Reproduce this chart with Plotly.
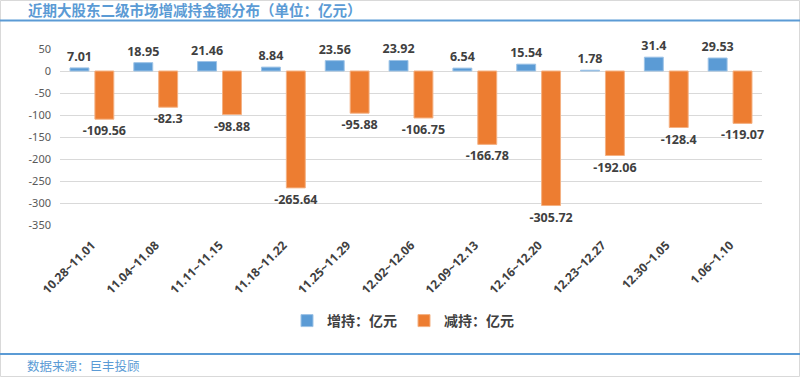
import plotly.graph_objects as go

categories = ["10.28~11.01", "11.04~11.08", "11.11~11.15", "11.18~11.22", "11.25~11.29",
              "12.02~12.06", "12.09~12.13", "12.16~12.20", "12.23~12.27", "12.30~1.05", "1.06~1.10"]
increase = [7.01, 18.95, 21.46, 8.84, 23.56, 23.92, 6.54, 15.54, 1.78, 31.4, 29.53]
decrease = [-109.56, -82.3, -98.88, -265.64, -95.88, -106.75, -166.78, -305.72, -192.06, -128.4, -119.07]
y_ticks = [50, 0, -50, -100, -150, -200, -250, -300, -350]

W, H = 800, 377
L, R, T, B = 60, 38, 49, 152
pw, ph = W - L - R, H - T - B

def px_x(p):
    return (p - L) / pw

def px_y(p):
    return (H - B - p) / ph

label_font = dict(family="Noto Sans, Noto Sans CJK SC, sans-serif", size=12.5, color="#404040", weight="bold")

fig = go.Figure()
fig.add_trace(go.Bar(
    x=categories, y=increase, name="增持：亿元",
    marker=dict(color="#5b9bd5", line=dict(color="#9dc3e6", width=1)),
    text=[str(v) for v in increase], textposition="outside", cliponaxis=False,
    constraintext="none", textfont=label_font,
))
fig.add_trace(go.Bar(
    x=categories, y=decrease, name="减持：亿元",
    marker=dict(color="#ed7d31", line=dict(color="#f4b183", width=1)),
    text=[str(v) for v in decrease], textposition="outside", cliponaxis=False,
    constraintext="none", textfont=label_font,
))

line_color = "#5b9bd5"
shapes = [
    dict(type="rect", xref="paper", yref="paper", x0=px_x(0.5), x1=px_x(W - 0.5), y0=px_y(H - 0.5), y1=px_y(0.5),
         line=dict(color="#d9d9d9", width=1), layer="below"),
    dict(type="line", xref="paper", yref="paper", x0=px_x(0), x1=px_x(W), y0=px_y(20.5), y1=px_y(20.5),
         line=dict(color=line_color, width=2)),
    dict(type="line", xref="paper", yref="paper", x0=px_x(0), x1=px_x(W), y0=px_y(354), y1=px_y(354),
         line=dict(color=line_color, width=2)),
]

fig.update_layout(
    width=W, height=H,
    margin=dict(l=L, r=R, t=T, b=B),
    paper_bgcolor="white", plot_bgcolor="white",
    barmode="group", bargap=0.22, bargroupgap=0.24,
    title=dict(text="近期大股东二级市场增减持金额分布（单位：亿元）", xref="container", yref="container",
               x=28 / W, xanchor="left", y=1 - 11 / H, yanchor="middle",
               font=dict(family="Noto Sans CJK SC, sans-serif", size=14.5, color="#5b9bd5", weight="bold")),
    showlegend=True,
    legend=dict(orientation="h", x=px_x(404), xanchor="center", y=px_y(321), yanchor="middle",
                font=dict(family="Noto Sans CJK SC, sans-serif", size=14, color="#404040", weight="bold"),
                entrywidth=72, entrywidthmode="pixels", itemwidth=30, tracegroupgap=0),
    shapes=shapes,
    annotations=[dict(text="数据来源：巨丰投顾", xref="paper", yref="paper", x=px_x(25), xanchor="left",
                      y=px_y(365), yanchor="middle", showarrow=False,
                      font=dict(family="Noto Sans CJK SC, sans-serif", size=12.5, color="#5b9bd5"))],
    xaxis=dict(tickangle=-45, showgrid=False, showline=False, ticks="", ticklabelstandoff=10,
               tickfont=dict(family="Noto Sans, sans-serif", size=12, color="#404040", weight="bold")),
    yaxis=dict(range=[-350, 50], tickvals=y_ticks, ticktext=[str(v) for v in y_ticks],
               showgrid=True, gridcolor="#d9d9d9", gridwidth=1, zeroline=True, zerolinecolor="#d9d9d9",
               zerolinewidth=1, showline=False, ticks="", ticklabelstandoff=8,
               tickfont=dict(family="Noto Sans, sans-serif", size=11, color="#595959")),
)

fig.write_html("out.html", config={"displayModeBar": False},
               post_script="document.body.style.margin='0';document.body.style.overflow='hidden';")
